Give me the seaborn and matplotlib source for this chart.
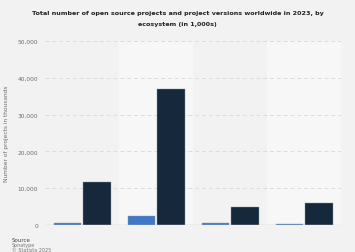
import matplotlib
matplotlib.use("Agg")
from matplotlib import pyplot as plt
from matplotlib.ticker import FuncFormatter
import pandas
import seaborn as sns

ecosystems = ["Java (Maven)", "JavaScript (npm)", "Python (PyPI)", ".NET (NuGet)"]
projects = [557, 2500, 475, 367]
versions = [11800, 37000, 4800, 6000]
series_names = ["Projects", "Project versions"]
y_ticks = [0, 10000, 20000, 30000, 40000, 50000]

BG = "#f2f2f2"
BAND = "#f7f7f7"
BLUE = "#2876dd"
NAVY = "#0f2842"

df = pandas.DataFrame({
    "ecosystem": ecosystems * 2,
    "series": [series_names[0]] * len(ecosystems) + [series_names[1]] * len(ecosystems),
    "value": projects + versions,
})

sns.set_style("white")
plt.rcParams["font.family"] = ["DejaVu Sans"]

fig = plt.figure(figsize=(3.55, 2.53), dpi=100, facecolor=BG)
ax = fig.add_axes([0.127, 0.107, 0.834, 0.727])
ax.set_facecolor(BG)

# alternating column bands
for i in range(len(ecosystems)):
    if i % 2 == 1:
        ax.axvspan(i - 0.5, i + 0.5, facecolor=BAND, edgecolor="none", zorder=0, lw=0)

sns.barplot(
    data=df, x="ecosystem", y="value", hue="series",
    palette=[BLUE, NAVY], width=0.8, gap=0.08,
    legend=False, ax=ax, zorder=3,
)
for container in ax.containers:
    for bar in container:
        bar.set_edgecolor("#8d99a6")
        bar.set_linewidth(0.3)

ax.set_xlim(-0.5, len(ecosystems) - 0.5)
ax.set_ylim(0, 50000)
ax.set_yticks(y_ticks)
ax.yaxis.set_major_formatter(FuncFormatter(lambda v, _: f"{int(v):,}"))
ax.tick_params(axis="y", labelsize=4.2, labelcolor="#6e6e6e", length=0, pad=5)
ax.tick_params(axis="x", length=0, labelbottom=False)
ax.set_xlabel("")
ax.set_ylabel("Number of projects in thousands", fontsize=4.2, color="#6e6e6e", labelpad=6)

for t in y_ticks[1:]:
    ax.axhline(t, color="#dcdcdc", lw=0.7, ls=(0, (4, 3)), zorder=1)
ax.axhline(0, color="#b4b4b4", lw=0.9, zorder=4)
for s in ax.spines.values():
    s.set_visible(False)

fig.text(0.5, 0.947, "Total number of open source projects and project versions worldwide in 2023, by",
         ha="center", va="center", fontsize=4.6, fontweight="bold", color="#222222")
fig.text(0.5, 0.902, "ecosystem (in 1,000s)",
         ha="center", va="center", fontsize=4.6, fontweight="bold", color="#222222")

fig.text(0.034, 0.05, "Source", fontsize=4, color="#444444", va="center")
fig.text(0.034, 0.029, "Sonatype", fontsize=3.5, color="#777777", va="center")
fig.text(0.034, 0.009, "© Statista 2025", fontsize=3.5, color="#777777", va="center")

fig.savefig("out.png", dpi=100, facecolor=BG)
